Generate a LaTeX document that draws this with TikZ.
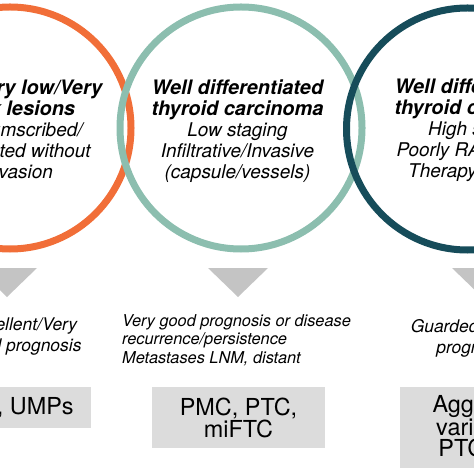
\documentclass[tikz,border=0pt]{standalone}
\usepackage{fontspec}
\setmainfont{TeX Gyre Heros}
\usepackage{tikz}

\definecolor{lowrisk}{RGB}{241,110,56}
\definecolor{wdtc}{RGB}{140,190,175}
\definecolor{highrisk}{RGB}{22,76,90}
\definecolor{pointer}{RGB}{196,196,196}
\definecolor{variant}{RGB}{220,220,220}

\newcommand{\ttl}[1]{{\fontsize{20}{21}\selectfont\bfseries #1}}

\begin{document}
\begin{tikzpicture}[x=1bp,y=-1bp]

\tikzstyle{ring} = [draw, circle, line width=7bp, minimum size=242bp, inner sep=0pt]
\tikzstyle{circtext} = [align=center, inner sep=0pt, font=\fontsize{19}{21}\selectfont\itshape]
\tikzstyle{outcome} = [align=center, inner sep=0pt, font=\fontsize{17.5}{21}\selectfont\itshape]
\tikzstyle{variantbox} = [fill=variant, anchor=north, minimum width=176bp, align=center, inner sep=0pt, font=\fontsize{23.5}{21}\selectfont]

\useasboundingbox (0,0) rectangle (474,474);
\clip (0,0) rectangle (474,474);

%circles
\node [ring, draw=lowrisk] (lowc) at (10,128) {};
\node [ring, draw=wdtc] (wdtcc) at (241,128) {};
\node [ring, draw=highrisk] (highc) at (467.5,129) {};

\node [circtext] (lowt) at (1,131) {\ttl{Benign/Very low/Very}\\ \ttl{low risk lesions}\\ Well circumscribed/\\ Encapsulated without\\ any invasion};
\node [circtext] (wdtct) at (237.5,131) {\ttl{Well differentiated}\\ \ttl{thyroid carcinoma}\\ Low staging\\ Infiltrative/Invasive\\ (capsule/vessels)};
\node [circtext] (hight) at (480.5,130) {\ttl{Well differentiated}\\ \ttl{thyroid carcinoma}\\ High staging\\ Poorly RAI sensitive\\ Therapy resistant};

%pointers
\fill [pointer] (-23,268) -- (37,268) -- (7,297) -- cycle;
\fill [pointer] (208,268) -- (268,268) -- (238,297) -- cycle;
\fill [pointer] (452,268) -- (512,268) -- (482,297) -- cycle;

%prognosis
\node [outcome] (lowp) at (22,337) {Excellent/Very\\ good prognosis};
\node [outcome, align=left, anchor=west, font=\fontsize{16.4}{18.5}\selectfont\itshape] (wdtcp) at (122,340) {Very good prognosis or disease\\ recurrence/persistence\\ Metastases LNM, distant};
\node [outcome] (highp) at (474,338) {Guarded to poor\\ prognosis};

%histotypes
\node [variantbox, minimum height=41bp] (lowv) at (3,387) {NIFTP, UMPs};
\node [variantbox, minimum height=61bp, minimum width=173bp] (wdtcv) at (238.5,387) {PMC, PTC,\\ miFTC};
\node [variantbox, minimum height=81bp, minimum width=180bp] (highv) at (490,387) {Aggressive\\ variants of\\ PTC, FTC};
\end{tikzpicture}
\end{document}
